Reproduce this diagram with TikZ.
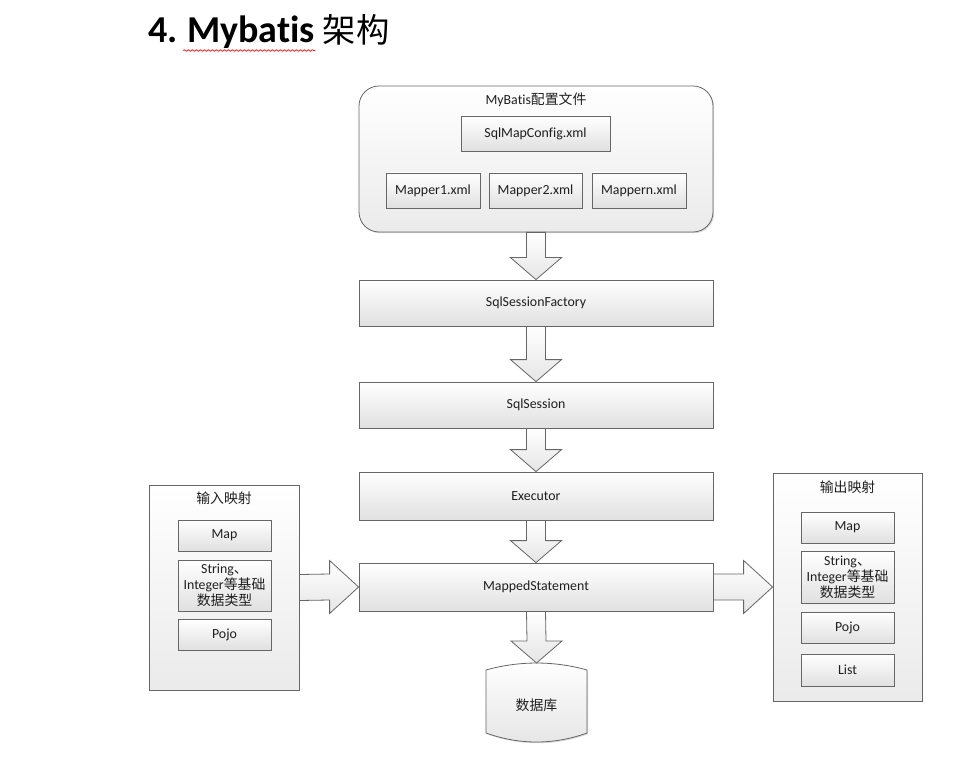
\documentclass[tikz,border=0pt]{standalone}
\usepackage{fontspec}
\setmainfont{Carlito}[Ligatures=NoCommon]
\newfontfamily\cjk{Noto Sans CJK SC}
\usetikzlibrary{shadows,calc,decorations.pathmorphing}
\newcommand\downarr[2]{\draw[barrow] ($(#1.south)+(-9.5,0)$) -- ($(#2)+(-9.5,-22)$) -- ($(#2)+(-25.5,-22)$) -- (#2) -- ($(#2)+(25.5,-22)$) -- ($(#2)+(9.5,-22)$) -- ($(#1.south)+(9.5,0)$) -- cycle;}
\newcommand\rightarr[2]{\draw[barrow] ($(#1)+(0,-13)$) -- ($(#2)+(-29,-13)$) -- ($(#2)+(-29,-26.5)$) -- (#2) -- ($(#2)+(-29,26.5)$) -- ($(#2)+(-29,13)$) -- ($(#1)+(0,13)$) -- cycle;}
\begin{document}
\begin{tikzpicture}[x=0.75pt,y=-0.75pt,
  every node/.style={font=\fontsize{10.4}{12}\selectfont, text=black!88},
  sz/.style 2 args={minimum width=#1*0.75pt, minimum height=#2*0.75pt},
  box/.style={draw=black!60, line width=0.6pt, top color=white, bottom color=black!12,
    drop shadow={shadow xshift=0.9pt, shadow yshift=-0.9pt, fill=black!30, opacity=0.5},
    inner sep=0pt, align=center},
  outer/.style={draw=black!60, line width=0.6pt, top color=white, bottom color=black!8,
    drop shadow={shadow xshift=0.9pt, shadow yshift=-0.9pt, fill=black!30, opacity=0.5},
    inner sep=0pt},
  barrow/.style={draw=black!60, line width=0.6pt, top color=white, bottom color=black!10, line join=miter},
  lbl/.style={inner sep=0pt},
  dbstyle/.style={draw=black!60, line width=0.6pt, top color=white, bottom color=black!10,
    drop shadow={shadow xshift=0.9pt, shadow yshift=-0.9pt, fill=black!30, opacity=0.5}}
]
\useasboundingbox[fill=white] (0,0) rectangle (969,773);

% title
\node[anchor=base west, inner sep=0pt, text=black, font=\fontsize{28.5}{32}\selectfont\bfseries] (title) at (148,43) {4.\hspace{-1.5pt} Mybatis\hspace{6pt}{\cjk\mdseries\fontsize{25}{30}\selectfont 架构}};
\draw[red, line width=0.5pt, decorate, decoration={snake, amplitude=0.6pt, segment length=3pt}] (183,50.5) -- (315,50.5);

% configuration block
\node[outer, sz={354}{146}, rounded corners=15pt] (cfg) at (536,159) {};
\node[lbl] (cfglbl) at (536,100) {MyBatis{\cjk 配置文件}};
\node[box, sz={149}{35}] (smc) at (535.5,133.5) {SqlMapConfig.xml};
\node[box, sz={94}{35}] (m1) at (433,190.5) {Mapper1.xml};
\node[box, sz={93}{35}] (m2) at (535.5,190.5) {Mapper2.xml};
\node[box, sz={94}{35}] (mn) at (639,190.5) {Mappern.xml};

% main chain
\node[box, sz={354}{46}] (sf) at (536,303) {SqlSessionFactory};
\node[box, sz={354}{46}] (ss) at (536,405) {SqlSession};
\node[box, sz={354}{48}] (ex) at (536,496) {Executor};
\node[box, sz={354}{48}] (ms) at (536,587) {MappedStatement};

% database
\draw[dbstyle] (486,670) .. controls (519,660.7) and (554,660.7) .. (587,670) -- (587,733) .. controls (554,745) and (519,745) .. (486,733) -- cycle;
\coordinate (dbtop) at (536.5,663);
\node[lbl] (db) at (536.5,705) {\cjk 数据库};

% input mapping
\node[outer, sz={150}{205}] (ins) at (224,587.5) {};
\node[lbl] (inslbl) at (224,498) {\cjk 输入映射};
\node[box, sz={93}{31}] (imap) at (224.5,535.5) {Map};
\node[box, sz={93}{51}] (istr) at (224.5,585.5) {String{\cjk 、}\\Integer{\cjk 等基础}\\{\cjk 数据类型}};
\node[box, sz={93}{31}] (ipojo) at (224.5,634.5) {Pojo};

% output mapping
\node[outer, sz={149}{228}] (outs) at (847.5,587) {};
\node[lbl] (outslbl) at (847.5,487) {\cjk 输出映射};
\node[box, sz={93}{31}] (omap) at (847.5,527.5) {Map};
\node[box, sz={93}{52}] (ostr) at (847.5,577) {String{\cjk 、}\\Integer{\cjk 等基础}\\{\cjk 数据类型}};
\node[box, sz={93}{31}] (opojo) at (847.5,627.5) {Pojo};
\node[box, sz={93}{32}] (olist) at (847.5,670) {List};

% block arrows
\downarr{cfg}{sf.north}
\downarr{sf}{ss.north}
\downarr{ss}{ex.north}
\downarr{ex}{ms.north}
\downarr{ms}{dbtop}
\rightarr{ins.east}{ms.west}
\rightarr{ms.east}{outs.west}
\end{tikzpicture}
\end{document}
